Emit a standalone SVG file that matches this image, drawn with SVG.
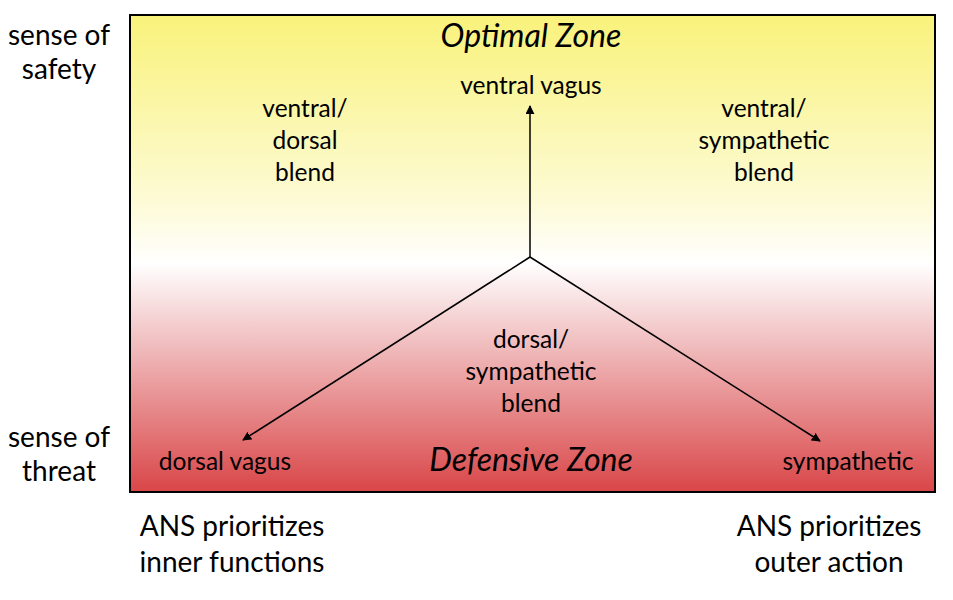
<svg xmlns="http://www.w3.org/2000/svg" width="953" height="600" viewBox="0 0 953 600">
<defs>
<linearGradient id="bg" x1="0" y1="14" x2="0" y2="493" gradientUnits="userSpaceOnUse">
<stop offset="0" stop-color="#f9f27a"/>
<stop offset="0.4" stop-color="#fdfbd8"/>
<stop offset="0.52" stop-color="#ffffff"/>
<stop offset="0.62" stop-color="#f6d8d9"/>
<stop offset="1" stop-color="#d94547"/>
</linearGradient>
<marker id="arr" viewBox="0 0 10 10" refX="9" refY="5" markerWidth="9" markerHeight="9" markerUnits="userSpaceOnUse" orient="auto">
<path d="M0,0 L10,5 L0,10 z" fill="#000"/>
</marker>
<style>
text{font-family:Lato,"Open Sans","Liberation Sans",sans-serif;fill:#000;text-anchor:middle}
.s{font-size:24.5px}
.l{font-size:28px}
.z{font-size:32px;font-style:italic}
.c{stroke:#000;stroke-width:1.5;fill:none;marker-end:url(#arr)}
</style>
</defs>
<rect width="953" height="600" fill="#fff"/>
<g id="frame"><rect x="130" y="15" width="805" height="477" fill="url(#bg)" stroke="#000" stroke-width="2"/></g>
<g id="connectors">
<line class="c" x1="530" y1="257" x2="530" y2="106"/>
<line class="c" x1="530" y1="257" x2="243" y2="440"/>
<line class="c" x1="530" y1="257" x2="820" y2="441"/>
</g>
<g id="axis-safety"><text class="l" x="59" y="45">sense of</text><text class="l" x="59" y="79">safety</text></g>
<g id="axis-threat"><text class="l" x="59" y="447">sense of</text><text class="l" x="59" y="481">threat</text></g>
<g id="optimal-zone"><text class="z" x="531" y="47">Optimal Zone</text></g>
<g id="ventral-vagus"><text class="s" x="531" y="94">ventral vagus</text></g>
<g id="ventral-dorsal"><text class="s" x="305" y="117">ventral/</text><text class="s" x="305" y="149">dorsal</text><text class="s" x="305" y="181">blend</text></g>
<g id="ventral-sympathetic"><text class="s" x="764" y="117">ventral/</text><text class="s" x="764" y="149">sympathetic</text><text class="s" x="764" y="181">blend</text></g>
<g id="dorsal-sympathetic"><text class="s" x="531" y="348">dorsal/</text><text class="s" x="531" y="380">sympathetic</text><text class="s" x="531" y="412">blend</text></g>
<g id="dorsal-vagus"><text class="s" x="225" y="470">dorsal vagus</text></g>
<g id="defensive-zone"><text class="z" x="531" y="471">Defensive Zone</text></g>
<g id="sympathetic"><text class="s" x="848" y="470">sympathetic</text></g>
<g id="inner"><text class="l" x="232" y="536">ANS prioritizes</text><text class="l" x="232" y="572">inner functions</text></g>
<g id="outer"><text class="l" x="829" y="536">ANS prioritizes</text><text class="l" x="829" y="572">outer action</text></g>
</svg>
